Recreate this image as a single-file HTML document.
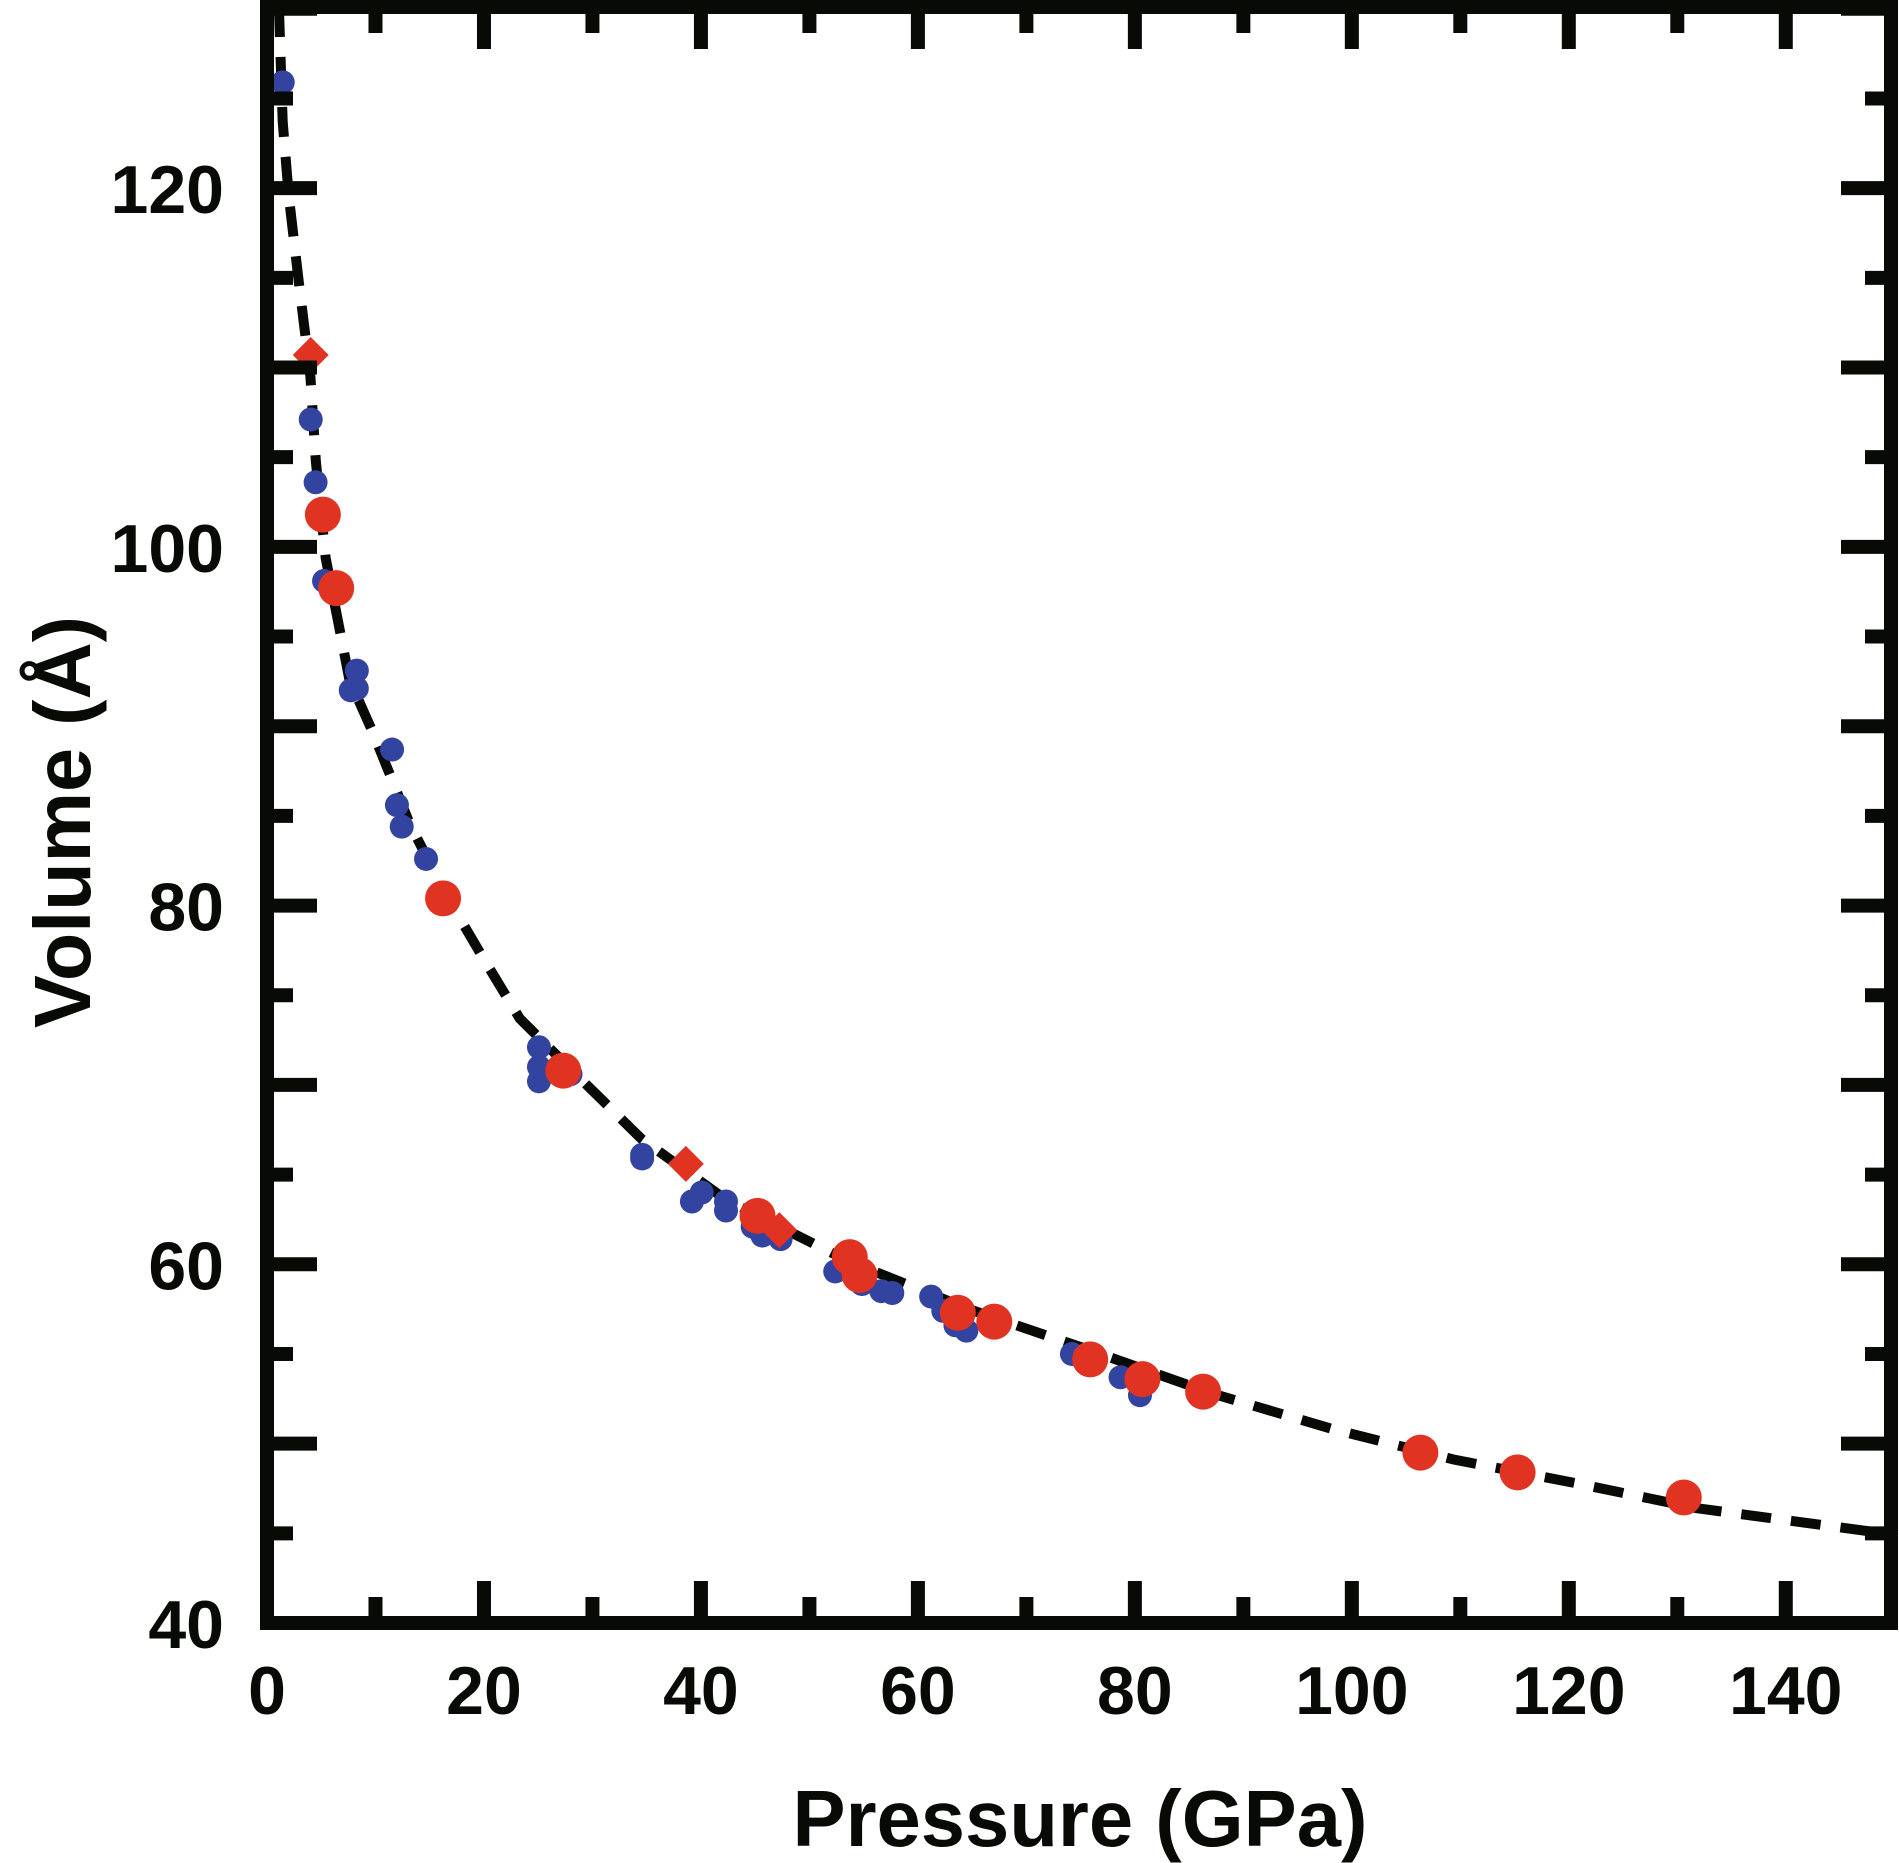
<!DOCTYPE html>
<html><head><meta charset="utf-8"><style>
html,body{margin:0;padding:0;background:#fff;}
svg{display:block;}
text{font-family:"Liberation Sans",Arial,sans-serif;font-weight:bold;fill:#080a05;}
</style></head><body>
<svg id="chart" width="1899" height="1863" viewBox="0 0 1899 1863" xmlns="http://www.w3.org/2000/svg">
<g id="curve"></g>
<g id="blue"></g>
<g id="red"></g>
<g id="dia"></g>
<g id="axes"></g>
<text x="1080" y="1846" font-size="80" text-anchor="middle" textLength="575" lengthAdjust="spacingAndGlyphs">Pressure (GPa)</text>
<text transform="translate(90,822) rotate(-90)" x="0" y="0" font-size="80" text-anchor="middle" textLength="412" lengthAdjust="spacingAndGlyphs">Volume (Å)</text>
</svg>
<script>
const curveP=[1.1,1.45,2.0,2.9,4.0,4.5,5.4,6.5,7.6,9.8,13.2,16.6,19.9,23.3,27.8,34.5,42.3,53.5,64.7,75.9,87.1,98.3,109.5,120.6,131.8,150.3];
const curveV=[130.1,123.7,119.6,114.9,109.5,104.8,99.4,96.0,92.6,89.6,84.5,80.5,77.1,73.7,71.0,67.0,63.6,60.2,57.5,55.2,52.8,50.8,49.1,47.8,46.4,44.9];
const blueP=[1.45,4.03,4.48,5.26,8.28,7.72,8.28,11.53,11.98,12.42,14.66,25.07,25.07,25.07,27.98,34.58,34.58,39.17,40.07,42.31,42.31,44.77,45.66,47.34,52.38,54.84,56.63,57.64,61.22,62.34,63.46,64.47,74.2,78.68,80.47,53.5];
const blueV=[125.9,107.1,103.6,98.1,93.1,92.0,92.1,88.7,85.6,84.4,82.6,72.1,71.0,70.2,70.6,66.1,65.9,63.5,64.0,63.5,63.0,62.1,61.6,61.4,59.6,58.9,58.5,58.4,58.2,57.4,56.6,56.3,55.0,53.7,52.7,59.9];
const redP=[5.15,6.38,16.23,27.31,45.22,53.72,54.62,63.68,67.04,75.88,80.69,86.29,106.32,115.28,130.6];
const redV=[101.8,97.7,80.4,70.8,62.7,60.4,59.4,57.3,56.8,54.7,53.6,52.9,49.5,48.4,47.0];
const diaP=[4.03,38.61,47.23];
const diaV=[110.7,65.6,61.9];
const xTickLabels=["0","20","40","60","80","100","120","140"];
const yTickLabels=["40","60","80","100","120"];

const NS="http://www.w3.org/2000/svg";
const X0=267,X1=1891,Y0=1623,Y1=7,PMAX=149.7,VMIN=40,VMAX=130.1;
function sx(p){return X0+(p/PMAX)*(X1-X0);}
function sy(v){return Y0-(v-VMIN)/(VMAX-VMIN)*(Y0-Y1);}
function mk(tag,attrs,parent){const e=document.createElementNS(NS,tag);for(const k in attrs)e.setAttribute(k,attrs[k]);parent.appendChild(e);return e;}

const cg=document.getElementById('curve');
let d=curveP.map((p,i)=>(i?'L':'M')+sx(p).toFixed(1)+' '+sy(curveV[i]).toFixed(1)).join(' ');
const cl=mk('path',{d:d,fill:'none',stroke:'#080a05','stroke-width':10,'stroke-dasharray':'30 20'},cg);



const bg=document.getElementById('blue');
blueP.forEach((p,i)=>{const c=mk('circle',{cx:sx(p),cy:sy(blueV[i]),r:12,fill:'#3343a0'},bg);

});
const rg=document.getElementById('red');
redP.forEach((p,i)=>{const c=mk('circle',{cx:sx(p),cy:sy(redV[i]),r:18,fill:'#e03322'},rg);

});
const dg=document.getElementById('dia');
diaP.forEach((p,i)=>{const x=sx(p),y=sy(diaV[i]),h=18;
const c=mk('polygon',{points:`${x},${y-h} ${x+h},${y} ${x},${y+h} ${x-h},${y}`,fill:'#e03322'},dg);

});

const ag=document.getElementById('axes');
const fr=mk('rect',{x:X0,y:Y1,width:X1-X0,height:Y0-Y1,fill:'none',stroke:'#080a05','stroke-width':14},ag);


const TW=14;
for(let p=0;p<=150;p+=10){
  const major=p%20===0, L=major?42:26, x=sx(p);
  if(p>0&&p<150){
    const t1=mk('line',{x1:x,x2:x,y1:Y0,y2:Y0-L,stroke:'#080a05','stroke-width':TW},ag);
    
    
    const t2=mk('line',{x1:x,x2:x,y1:Y1,y2:Y1+L,stroke:'#080a05','stroke-width':TW},ag);
    
    
  }
}
xTickLabels.forEach((s,i)=>{const t=mk('text',{x:sx(i*20),y:1714,'font-size':68,'text-anchor':'middle'},ag);t.textContent=s;

});
for(let v=45;v<=130;v+=5){
  const major=v%10===0, L=major?50:26, y=sy(v);
  const t1=mk('line',{x1:X0,x2:X0+L,y1:y,y2:y,stroke:'#080a05','stroke-width':TW},ag);
  
  
  const t2=mk('line',{x1:X1,x2:X1-L,y1:y,y2:y,stroke:'#080a05','stroke-width':TW},ag);
  
  
}
yTickLabels.forEach((s,i)=>{const t=mk('text',{x:224,y:sy(40+i*20)+25,'font-size':68,'text-anchor':'end'},ag);t.textContent=s;

});
</script>
</body></html>
